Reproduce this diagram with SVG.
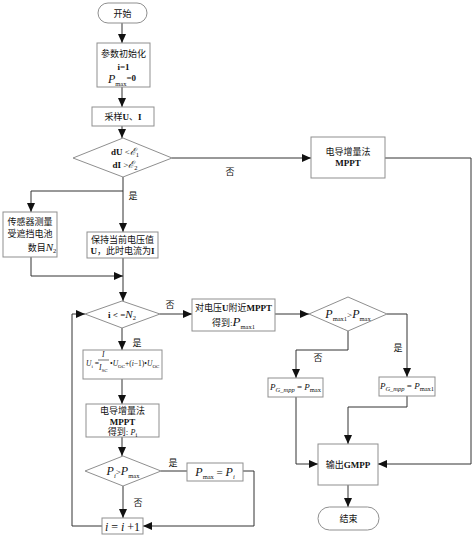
<svg xmlns="http://www.w3.org/2000/svg" width="474" height="536" viewBox="0 0 474 536">
<defs>
<marker id="ah" markerWidth="9" markerHeight="8" refX="9" refY="4" orient="auto" markerUnits="userSpaceOnUse">
<path d="M0,0 L9,4 L0,8 z" fill="#111"/>
</marker>
<style>
.box{fill:#fff;stroke:#8f8f8f;stroke-width:1}
.ln{fill:none;stroke:#333;stroke-width:1}
.ar{fill:none;stroke:#333;stroke-width:1;marker-end:url(#ah)}
text{font-family:"Liberation Serif","Noto Sans CJK SC",serif;font-size:9px;fill:#111;text-anchor:middle}
.b{font-weight:bold}
.m{font-style:italic;font-size:12px}
.s{font-size:6.5px;font-style:normal}
.si{font-size:6.5px;font-style:italic}
.f{font-style:italic;font-size:8px}
.fs{font-size:7.5px;text-anchor:start}
.fs .s{font-size:5px}
</style>
</defs>
<rect width="474" height="536" fill="#fff"/>
<g id="connectors">
<path class="ar" d="M122,23 V43"/>
<path class="ar" d="M122,87 V107"/>
<path class="ar" d="M122,126 V138"/>
<path class="ar" d="M123,177 V232"/>
<path class="ar" d="M123,191 H31 V212"/>
<path class="ar" d="M172,158 H311"/>
<path class="ln" d="M385,158 H471 V464"/>
<path class="ar" d="M471,464 H378"/>
<path class="ar" d="M31,257 V276 H123"/>
<path class="ar" d="M123,258 V301"/>
<path class="ar" d="M160,314 H192"/>
<path class="ar" d="M275,314 H309"/>
<path class="ar" d="M348,331 V350 H296 V378"/>
<path class="ar" d="M387,314 H407 V377"/>
<path class="ar" d="M296,397 V464 H318"/>
<path class="ar" d="M407,396 V407 H348 V444"/>
<path class="ar" d="M348,485 V507"/>
<path class="ar" d="M122,328 V350"/>
<path class="ar" d="M122,379 V404"/>
<path class="ar" d="M122,437 V456"/>
<path class="ln" d="M161,471 H187"/>
<path class="ln" d="M243,471 H254 V526"/>
<path class="ar" d="M254,526 H143"/>
<path class="ar" d="M123,486 V518"/>
<path class="ln" d="M102,526 H72 V314"/>
<path class="ar" d="M72,314 H85"/>
<text x="133" y="199">是</text>
<text x="230" y="175">否</text>
<text x="170" y="308">否</text>
<text x="137" y="346">是</text>
<text x="318" y="361">否</text>
<text x="398" y="351">是</text>
<text x="173" y="466">是</text>
<text x="138" y="506">否</text>
</g>
<g id="start">
<rect class="box" x="98" y="3" width="49" height="20" rx="10"/>
<text x="122.5" y="16.5">开始</text>
</g>
<g id="init">
<rect class="box" x="97" y="43" width="53" height="44"/>
<text x="123.5" y="57">参数初始化</text>
<text class="b" x="123.5" y="70">i=1</text>
<text x="122" y="83"><tspan class="m">P</tspan><tspan class="s" dy="3">max</tspan><tspan class="b" dy="-5">=0</tspan></text>
</g>
<g id="sample">
<rect class="box" x="92" y="107" width="62" height="19"/>
<text x="123" y="120">采样<tspan class="b">U</tspan>、<tspan class="b">I</tspan></text>
</g>
<g id="dec1">
<polygon class="box" points="123,138 172,158 123,177 73,158"/>
<text x="125" y="155"><tspan class="b">dU</tspan> &lt;<tspan class="m" style="font-size:10px">ℰ</tspan><tspan class="s" dy="2">1</tspan></text>
<text x="125" y="168"><tspan class="b">dI</tspan>  &gt;<tspan class="m" style="font-size:10px">ℰ</tspan><tspan class="s" dy="2">2</tspan></text>
</g>
<g id="mppt1">
<rect class="box" x="311" y="137" width="74" height="41"/>
<text x="348" y="155">电导增量法</text>
<text class="b" x="348" y="166">MPPT</text>
</g>
<g id="sensor">
<rect class="box" x="3" y="212" width="54" height="45"/>
<text x="30" y="225">传感器测量</text>
<text x="30" y="237">受遮挡电池</text>
<text x="42" y="251">数目<tspan class="m" style="font-size:11px">N</tspan><tspan class="s" dy="2">2</tspan></text>
</g>
<g id="hold">
<rect class="box" x="87" y="232" width="71" height="26"/>
<text x="122.5" y="243">保持当前电压值</text>
<text x="122.5" y="254"><tspan class="b">U</tspan>，此时电流为<tspan class="b">I</tspan></text>
</g>
<g id="dec2">
<polygon class="box" points="122,301 160,314 122,328 85,314"/>
<text x="122" y="318"><tspan class="b">i &lt; =</tspan><tspan class="m" style="font-size:11px">N</tspan><tspan class="s" dy="2">2</tspan></text>
</g>
<g id="mpptU">
<rect class="box" x="192" y="299" width="83" height="32"/>
<text x="233.5" y="311">对电压<tspan class="b">U</tspan>附近<tspan class="b">MPPT</tspan></text>
<text x="233.5" y="326">得到:<tspan class="m" style="font-size:13px">P</tspan><tspan class="s" dy="3">max1</tspan></text>
</g>
<g id="dec4">
<polygon class="box" points="348,297 387,314 348,331 309,314"/>
<text x="348" y="318"><tspan class="m">P</tspan><tspan class="s" dy="3">max1</tspan><tspan dy="-3">&gt;</tspan><tspan class="m">P</tspan><tspan class="s" dy="3">max</tspan></text>
</g>
<g id="pgL">
<rect class="box" x="268" y="378" width="55" height="19"/>
<text x="295.5" y="390"><tspan class="m" style="font-size:9px">P</tspan><tspan class="si" dy="2">G_mpp</tspan><tspan dy="-2"> = </tspan><tspan class="m" style="font-size:9px">P</tspan><tspan class="s" dy="2">max</tspan></text>
</g>
<g id="pgR">
<rect class="box" x="379" y="377" width="56" height="19"/>
<text x="407" y="389"><tspan class="m" style="font-size:9px">P</tspan><tspan class="si" dy="2">G_mpp</tspan><tspan dy="-2"> = </tspan><tspan class="m" style="font-size:9px">P</tspan><tspan class="s" dy="2">max1</tspan></text>
</g>
<g id="gmpp">
<rect class="box" x="318" y="444" width="60" height="41"/>
<text x="348" y="468">输出<tspan class="b">GMPP</tspan></text>
</g>
<g id="end">
<rect class="box" x="318" y="507" width="61" height="23" rx="11.5"/>
<text x="348.5" y="521.5">结束</text>
</g>
<g id="formula">
<rect class="box" x="83" y="350" width="79" height="29"/>
<text class="fs" x="86" y="366"><tspan font-style="italic">U</tspan><tspan class="s" dy="2" font-style="italic">i</tspan><tspan dy="-2"> =</tspan></text>
<text class="fs" x="102" y="357" font-style="italic">I</text>
<line x1="98" y1="360" x2="109" y2="360" stroke="#111" stroke-width="0.6"/>
<text class="fs" x="99" y="370" font-style="italic">I<tspan class="s" dy="2">SC</tspan></text>
<text class="fs" x="110" y="366">•<tspan font-style="italic">U</tspan><tspan class="s" dy="2">OC</tspan><tspan dy="-2">+(</tspan><tspan font-style="italic">i</tspan>−1)•<tspan font-style="italic">U</tspan><tspan class="s" dy="2">OC</tspan></text>
</g>
<g id="mppt2">
<rect class="box" x="86" y="404" width="73" height="33"/>
<text x="122.5" y="414">电导增量法</text>
<text class="b" x="122.5" y="425">MPPT</text>
<text x="122.5" y="435">得到: <tspan class="f">P</tspan><tspan class="s" dy="2">i</tspan></text>
</g>
<g id="dec3">
<polygon class="box" points="123,456 161,471 123,486 85,471"/>
<text x="123" y="475"><tspan class="m">P</tspan><tspan class="si" dy="3">i</tspan><tspan dy="-3">&gt;</tspan><tspan class="m">P</tspan><tspan class="s" dy="3">max</tspan></text>
</g>
<g id="pmax">
<rect class="box" x="187" y="463" width="56" height="18"/>
<text x="215" y="476"><tspan class="m">P</tspan><tspan class="s" dy="3">max</tspan><tspan dy="-3" style="font-size:11px"> = </tspan><tspan class="m">P</tspan><tspan class="si" dy="3">i</tspan></text>
</g>
<g id="inc">
<rect class="box" x="102" y="518" width="41" height="16"/>
<text x="122.5" y="530.5" style="font-size:12px"><tspan font-style="italic">i</tspan> = <tspan font-style="italic">i</tspan> +1</text>
</g>
</svg>
